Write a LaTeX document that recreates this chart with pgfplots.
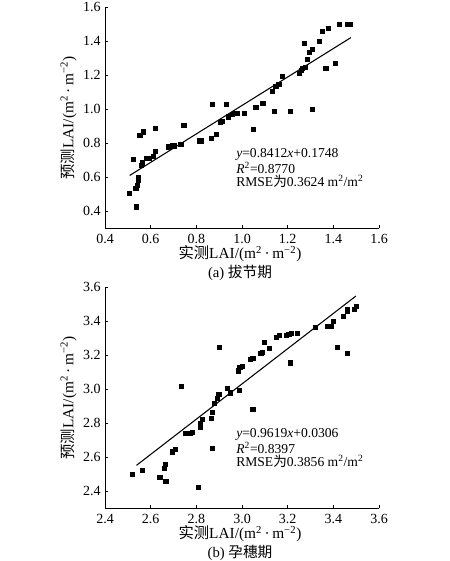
\documentclass[border=0pt]{standalone}
\usepackage{fontspec}
\setmainfont{Liberation Serif}
\newfontfamily\cjk{Noto Sans CJK SC}
\usepackage{pgfplots}
\usepackage{pgfplotstable}
\pgfplotsset{compat=1.18}

\pgfplotstableread{
x y
0.508 0.504
0.523 0.703
0.535 0.533
0.537 0.425
0.542 0.550
0.545 0.600
0.546 0.590
0.547 0.580
0.552 0.846
0.560 0.670
0.564 0.684
0.567 0.866
0.580 0.710
0.593 0.710
0.610 0.720
0.622 0.752
0.622 0.889
0.677 0.778
0.696 0.784
0.704 0.784
0.732 0.794
0.745 0.905
0.813 0.813
0.820 0.813
0.865 0.830
0.871 1.026
0.889 0.852
0.906 0.920
0.915 0.928
0.931 1.026
0.940 0.954
0.958 0.968
0.967 0.974
0.977 0.974
1.010 0.974
1.050 0.880
1.060 1.009
1.091 1.032
1.133 1.105
1.143 0.987
1.148 1.134
1.161 1.146
1.176 1.195
1.211 0.987
1.252 1.210
1.258 1.228
1.265 1.238
1.271 1.387
1.278 1.247
1.285 1.295
1.294 1.334
1.306 1.350
1.307 0.999
1.338 1.400
1.353 1.457
1.367 1.238
1.379 1.473
1.408 1.271
1.427 1.498
1.460 1.498
1.474 1.498
}\dataA

\pgfplotstableread{
x y
2.520 2.496
2.564 2.523
2.640 2.482
2.658 2.533
2.663 2.559
2.666 2.459
2.696 2.631
2.706 2.645
2.735 3.017
2.750 2.739
2.772 2.739
2.783 2.743
2.807 2.420
2.816 2.778
2.818 2.800
2.827 2.820
2.865 2.826
2.868 2.864
2.868 2.650
2.879 2.915
2.893 2.944
2.898 2.970
2.900 3.248
2.936 3.003
2.947 2.978
2.988 2.993
2.982 3.107
2.990 3.126
3.000 3.136
3.038 3.177
3.047 3.179
3.047 2.880
3.082 3.208
3.090 3.218
3.097 3.273
3.120 3.238
3.149 3.306
3.162 3.314
3.193 3.318
3.205 3.322
3.214 3.326
3.212 3.154
3.243 3.330
3.320 3.365
3.372 3.369
3.391 3.369
3.400 3.400
3.419 3.244
3.445 3.428
3.462 3.455
3.462 3.469
3.462 3.208
3.492 3.467
3.499 3.486
}\dataB

\pgfplotsset{
  myax/.style={
    scale only axis,
    width=205.5pt, height=165.75pt,
    axis lines*=left,
    tick align=inside,
    major tick length=2pt,
    axis line style={line width=0.6pt},
    every tick/.style={black, line width=0.6pt},
    ticklabel style={font=\fontsize{10.5}{12}\selectfont, inner sep=0pt},
    yticklabel style={xshift=-3pt},
    xticklabel style={yshift=-4.5pt},
    /pgf/number format/.cd, fixed, fixed zerofill, precision=1, assume math mode=true,
  },
}
\newcommand{\unitlbl}{LAI/(m\textsuperscript{2}\,·\,m\textsuperscript{−2})}

\begin{document}
\begin{tikzpicture}
\path[use as bounding box] (0,0) rectangle (337.5pt,420.75pt);

\begin{axis}[myax, at={(78.75pt,249.75pt)}, anchor=south west,
  xmin=0.4, xmax=1.6, ymin=0.3, ymax=1.6,
  xtick={0.4,0.6,...,1.6}, ytick={0.4,0.6,...,1.6}]
\addplot[only marks, mark=square*, mark size=1.55pt, black] table {\dataA};
\addplot[black, line width=0.8pt] coordinates {(0.508,0.609) (1.477,1.42)};
\end{axis}

\begin{axis}[myax, at={(78.75pt,39.75pt)}, anchor=south west,
  xmin=2.4, xmax=3.6, ymin=2.3, ymax=3.6,
  xtick={2.4,2.6,...,3.6}, ytick={2.4,2.6,...,3.6}]
\addplot[only marks, mark=square*, mark size=1.55pt, black] table {\dataB};
\addplot[black, line width=0.8pt] coordinates {(2.538,2.551) (3.499,3.547)};
\end{axis}

\begin{scope}[every node/.style={font=\fontsize{11.5}{13}\selectfont, inner sep=0pt}]
% panel a annotation
\node[anchor=base west, align=left, font=\fontsize{10.2}{10.25}\selectfont] at (177pt,280.7pt)
  {\textit{y}=0.8412\textit{x}+0.1748\\
   \textit{R}\textsuperscript{2}=0.8770\\
   RMSE{\cjk 为}0.3624 m\textsuperscript{2}/m\textsuperscript{2}};
% panel b annotation
\node[anchor=base west, align=left, font=\fontsize{10.2}{10.25}\selectfont] at (177pt,70.7pt)
  {\textit{y}=0.9619\textit{x}+0.0306\\
   \textit{R}\textsuperscript{2}=0.8397\\
   RMSE{\cjk 为}0.3856 m\textsuperscript{2}/m\textsuperscript{2}};
% axis labels
\node at (180pt,230.25pt) {{\cjk 实测}\unitlbl};
\node[font=\fontsize{11}{13}\selectfont] at (180pt,216pt) {(a) {\cjk 拔节期}};
\node[rotate=90] at (51.4pt,332.25pt) {{\cjk 预测}\unitlbl};
\node at (180pt,20.25pt) {{\cjk 实测}\unitlbl};
\node[font=\fontsize{11}{13}\selectfont] at (180pt,6pt) {(b) {\cjk 孕穗期}};
\node[rotate=90] at (51.4pt,122.25pt) {{\cjk 预测}\unitlbl};
\end{scope}
\end{tikzpicture}
\end{document}
